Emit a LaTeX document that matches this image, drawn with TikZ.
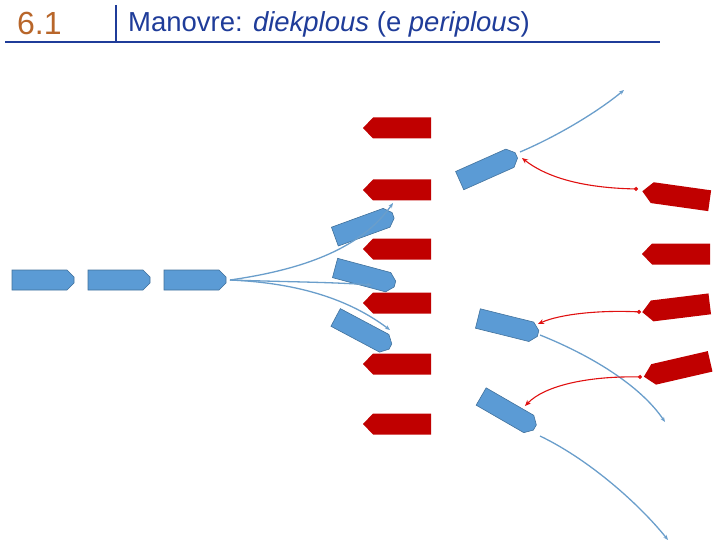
\documentclass[tikz,border=0pt]{standalone}
\usepackage{fontspec}
\setmainfont{Liberation Sans}
\usetikzlibrary{arrows.meta}
\definecolor{bship}{HTML}{5B9BD5}
\definecolor{bedge}{HTML}{41719C}
\definecolor{rship}{HTML}{C00000}
\definecolor{bline}{HTML}{6A9ECB}
\definecolor{rline}{HTML}{E01010}
\definecolor{hblue}{HTML}{1F3C99}
\definecolor{horange}{HTML}{B8662A}
\tikzset{
 x=1pt,y=-1pt,
 bluecurve/.style={bline,line width=1.3pt,-{Stealth[length=5pt,width=4pt]}},
 redcurve/.style={rline,line width=1.1pt,{Circle[length=4pt]}-{Stealth[length=6pt,width=5pt]}},
 pics/bship/.style={code={\filldraw[fill=bship,draw=bedge,line width=0.6pt] (-31,-10)--(24,-10)--(31,-3)--(31,3)--(24,10)--(-31,10)--cycle;}},
 pics/rship/.style={code={\fill[rship] (-34,-10.5)--(24,-10.5)--(34,0)--(24,10.5)--(-34,10.5)--cycle;}}
}
\begin{document}
\begin{tikzpicture}
\useasboundingbox (0,0) rectangle (720,540);
% header
\node[anchor=west,text=horange,font=\fontsize{32}{32}\selectfont,inner sep=0] (num) at (17,23) {6.1};
\node[anchor=west,text=hblue,font=\fontsize{27.5}{27.5}\selectfont,inner sep=0] (ttl) at (128,24) {Manovre: \textit{diekplous} (e \textit{periplous})};
\draw[hblue,line width=2.2pt] (5,42)--(660,42);
\draw[hblue,line width=2pt] (116,5)--(116,42);
% left red column
\foreach \yy in {128,190,249,303,364,424} \pic[rotate=180] at (397,\yy) {rship};
% right red ships
\pic[rotate=172] at (676,196) {rship};
\pic[rotate=180] at (676,254) {rship};
\pic[rotate=187] at (676,308) {rship};
\pic[rotate=193] at (677,369) {rship};
% blue fleet left
\pic at (43,280) {bship};
\pic at (119,280) {bship};
\pic at (195,280) {bship};
% blue ships
\pic[rotate=24] at (488,168) {bship};
\pic[rotate=20] at (364,226) {bship};
\pic[rotate=-15] at (365,276) {bship};
\pic[rotate=-28] at (363,332) {bship};
\pic[rotate=-14] at (508,326) {bship};
\pic[rotate=-30] at (508,412) {bship};
% coordinates
\coordinate (o) at (230,280);
\coordinate (a1) at (393,203);
\coordinate (a2) at (372,285);
\coordinate (a3) at (390,330);
% blue curves
\draw[bluecurve] (o) .. controls (300,270) and (360,250) .. (a1);
\draw[bluecurve] (o) .. controls (290,282) and (330,282) .. (a2);
\draw[bluecurve] (o) .. controls (300,283) and (350,300) .. (a3);
\coordinate (b1) at (520,152); \coordinate (e1) at (624,90);
\coordinate (b2) at (540,335); \coordinate (e2) at (665,422);
\coordinate (b3) at (540,436); \coordinate (e3) at (668,540);
\draw[bluecurve] (b1) .. controls (560,135) and (600,110) .. (e1);
\draw[bluecurve] (b2) .. controls (590,355) and (640,385) .. (e2);
\draw[bluecurve] (b3) .. controls (590,460) and (640,505) .. (e3);
% red curves
\coordinate (r1) at (638,189); \coordinate (t1) at (522,158);
\coordinate (r2) at (641,312); \coordinate (t2) at (538,324);
\coordinate (r3) at (642,377); \coordinate (t3) at (525,406);
\draw[redcurve] (r1) .. controls (590,188) and (550,180) .. (t1);
\draw[redcurve] (r2) .. controls (600,310) and (560,314) .. (t2);
\draw[redcurve] (r3) .. controls (590,376) and (545,385) .. (t3);
\end{tikzpicture}
\end{document}
